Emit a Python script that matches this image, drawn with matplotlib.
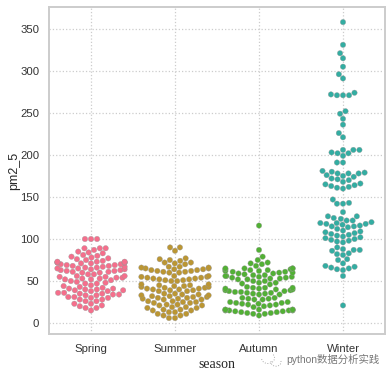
import pandas as pd
import matplotlib
matplotlib.use("Agg")
import matplotlib.pyplot as plt
from matplotlib.patches import Arc
import seaborn as sns

seasons = ['Spring', 'Summer', 'Autumn', 'Winter']
season_colors = ['#f56f8c', '#bb9633', '#52b035', '#33ada2']

spring = [15, 18, 18, 20, 21, 23, 23, 26, 26, 28, 28, 30, 30, 31, 31, 33, 33, 34, 34,
          35, 35, 36, 36, 38, 38, 39, 39, 40, 40, 41, 41, 42, 43, 44, 45,
          47, 47, 48, 49, 50, 51, 52, 52, 53, 53, 54, 54, 55, 55, 56, 56,
          58, 58, 60, 60, 61, 61, 62, 62, 63, 63, 64, 64, 65, 65, 66, 66, 67, 67,
          68, 68, 69, 69, 70, 70, 71, 71, 72, 72, 72, 72, 73, 73, 73,
          74, 75, 76, 77, 78, 79, 80, 81, 83, 84, 85, 87, 89, 89, 89, 100, 100, 100]
summer = [6, 6, 9, 9, 11, 11, 13, 13, 15, 15, 16, 16, 18, 18, 19, 19, 21, 21, 22, 22,
          24, 24, 25, 25, 26, 26,
          28, 28, 29, 29, 30, 30, 31, 31, 32, 32, 33, 33, 34, 34, 35, 35,
          38, 38, 39, 39, 40, 40, 41, 41, 42, 42, 43, 43, 44, 44, 45, 45, 46, 46,
          50, 50, 51, 51, 52, 52, 53, 53, 54, 54, 55, 55, 56, 56,
          60, 60, 61, 61, 62, 62, 63, 63, 64, 64, 65, 65, 66, 66, 67, 67,
          70, 71, 72, 72, 74, 75, 76, 77, 86, 90, 90]
autumn = [9, 11, 11, 12, 12, 13, 13, 14, 14, 15, 15, 15, 15, 16, 16, 16, 16, 16,
          19, 20, 21, 22, 22, 23, 23, 24, 24, 25, 25,
          28, 28, 29, 29, 30, 30, 34, 34, 35, 35, 36, 36, 37, 37,
          38, 38, 39, 39, 40, 40, 41, 41, 42, 42, 42, 43,
          46, 47, 48, 48, 50, 50, 52, 52, 53, 53, 54, 54, 55, 55, 56, 56, 57, 57, 58,
          59, 59, 60, 60, 61, 61, 62, 62, 63, 63, 64, 64, 65, 65, 65, 65,
          68, 70, 71, 72, 75, 79, 87, 116]
winter = [358, 331, 321, 315, 305, 296, 291, 274, 272, 271, 271, 271, 252, 249,
          243, 236, 226, 221, 206, 206, 206, 203, 202, 202, 199, 191, 191,
          181, 180, 179, 178, 178, 178, 176, 175, 174, 172, 171, 170, 168, 166,
          165, 164, 163, 162, 161, 160, 147, 143, 142, 142, 132,
          127, 127, 125, 124, 122, 122, 120, 119, 119, 118, 118, 117, 116, 115,
          115, 114, 112, 110, 109, 108, 107, 106, 105, 104, 103, 102, 101, 100,
          99, 98, 97, 96, 90, 88, 87, 87, 86, 83, 82, 81, 76, 75, 71, 68, 67,
          66, 65, 64, 63, 56, 21]

rows = []
for name, vals in zip(seasons, [spring, summer, autumn, winter]):
    rows += [(name, v) for v in vals]
df = pd.DataFrame(rows, columns=['season', 'pm2_5'])

sns.set_style('whitegrid')
plt.rcParams['font.family'] = ['Liberation Sans', 'Noto Sans CJK SC', 'DejaVu Sans']

fig = plt.figure(figsize=(3.91, 3.78), dpi=100)
ax = fig.add_axes([49 / 391, 1 - 334 / 378, 336 / 391, 327 / 378])
sns.swarmplot(data=df, x='season', y='pm2_5', hue='season', order=seasons,
              palette=season_colors, size=3.9, linewidth=0.25, edgecolor='#999999',
              legend=False, ax=ax, warn_thresh=1)
ax.set_xlim(-0.5, 3.5)
ax.set_ylim(-13, 376)
ax.set_yticks(range(0, 351, 50))
ax.grid(True, color='#cccccc', linestyle=':', linewidth=0.9)
ax.tick_params(length=0, labelsize=8.2, labelcolor='#333333', pad=7)
for s in ax.spines.values():
    s.set_color('#cccccc')
    s.set_linewidth(1.4)

ax.set_xlabel('')
ax.set_ylabel('pm2_5', fontsize=9, color='#262626', labelpad=0)
fig.text(217 / 391, 1 - 364 / 378, 'season', fontsize=10, family='Liberation Serif',
         color='#262626', ha='center', va='center')

# watermark
fig.text(286 / 391, 1 - 359 / 378, 'python数据分析实践', fontsize=7.5, color='#777777',
         va='center', ha='left')
for cx, cy, w, start, end in [(268, 358, 13, 190, 400), (276, 362, 10, 170, 380)]:
    fig.add_artist(Arc((cx / 391, 1 - cy / 378), w / 391, w * 0.85 / 378, theta1=start, theta2=end,
                       color='#aaaaaa', linewidth=0.7, linestyle=':', transform=fig.transFigure))

fig.savefig('out.png', dpi=100)
